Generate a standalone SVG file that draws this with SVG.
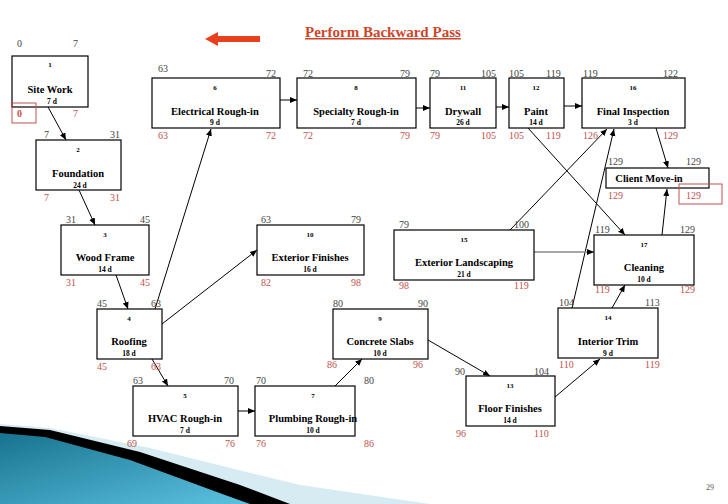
<svg xmlns="http://www.w3.org/2000/svg" width="728" height="504" viewBox="0 0 728 504" font-family="'Liberation Serif', 'DejaVu Serif', serif">
<defs>
<marker id="a" markerWidth="8" markerHeight="8" refX="7" refY="4" orient="auto" markerUnits="userSpaceOnUse"><path d="M0,1 L7,4 L0,7z" fill="#000"/></marker>
<linearGradient id="g1" x1="0" y1="0" x2="1" y2="1"><stop offset="0" stop-color="#17738f"/><stop offset="1" stop-color="#5cc2e0"/></linearGradient>
</defs>
<style>
text{font-family:'Liberation Serif','DejaVu Serif',serif}
.b{fill:#fff;stroke:#000;stroke-width:1.2}
.id{font-size:7px;font-weight:bold;text-anchor:middle}
.n{font-size:10.5px;font-weight:bold;text-anchor:middle}
.d{font-size:7.5px;font-weight:bold;text-anchor:middle}
.k{font-size:10px;fill:#444}
.r{font-size:10px;fill:#c0504d}
.c line{stroke:#000;stroke-width:1;marker-end:url(#a)}
</style>
<rect width="728" height="504" fill="#fff"/>
<polygon points="0,424 50,428 150,448 300,485 430,504 0,504" fill="#d6ebf2"/>
<polygon points="0,426 50,430 140,452 240,485 290,504 0,504" fill="#000"/>
<polygon points="0,433 45,437 130,460 225,495 250,504 0,504" fill="url(#g1)"/>
<text x="305" y="37" font-size="15" font-weight="bold" fill="#d0452a" text-decoration="underline">Perform Backward Pass</text>
<polygon points="205,39 218,32 218,36 260,36 260,42 218,42 218,46" fill="#e8401c"/>
<text x="706" y="490" font-size="8" fill="#555">29</text>
<g class="c">
<line x1="48" y1="107" x2="66" y2="140"/>
<line x1="79" y1="190" x2="95" y2="225"/>
<line x1="116" y1="275" x2="128" y2="309"/>
<line x1="155" y1="309" x2="211" y2="129"/>
<line x1="162" y1="324" x2="257" y2="250"/>
<line x1="152" y1="359" x2="168" y2="386"/>
<line x1="238" y1="411" x2="255" y2="411"/>
<line x1="335" y1="386" x2="362" y2="359"/>
<line x1="428" y1="340" x2="490" y2="376"/>
<line x1="555" y1="397" x2="600" y2="359"/>
<line x1="612" y1="308" x2="625" y2="285"/>
<line x1="572" y1="308" x2="614" y2="129"/>
<line x1="528" y1="128" x2="625" y2="235"/>
<line x1="510" y1="230" x2="607" y2="129"/>
<line x1="534" y1="252" x2="594" y2="252" style="stroke:#888;stroke-width:1.5"/>
<line x1="662" y1="235" x2="667" y2="189"/>
<line x1="656" y1="128" x2="668" y2="168"/>
<line x1="280" y1="100" x2="297" y2="100"/>
<line x1="416" y1="108" x2="430" y2="108"/>
<line x1="496" y1="107" x2="509" y2="107"/>
<line x1="564" y1="106" x2="582" y2="106"/>
</g>
<g id="n1"><rect class="b" x="12" y="56" width="76" height="51"/><text class="id" x="50" y="67">1</text><text class="n" x="50" y="93">Site Work</text><text class="d" x="52" y="104">7 d</text><text class="k" x="17" y="47">0</text><text class="k" x="73" y="47">7</text><rect x="12" y="103" width="24" height="20" fill="none" stroke="#c0504d"/><text class="r" x="17" y="117" font-weight="bold">0</text><text class="r" x="73" y="117">7</text></g>
<g id="n2"><rect class="b" x="36" y="140" width="85" height="50"/><text class="id" x="78" y="152">2</text><text class="n" x="78" y="177">Foundation</text><text class="d" x="80" y="188">24 d</text><text class="k" x="44" y="138">7</text><text class="k" x="110" y="138">31</text><text class="r" x="44" y="201">7</text><text class="r" x="110" y="201">31</text></g>
<g id="n3"><rect class="b" x="61" y="225" width="88" height="50"/><text class="id" x="105" y="237">3</text><text class="n" x="105" y="261">Wood Frame</text><text class="d" x="105" y="272">14 d</text><text class="k" x="66" y="223">31</text><text class="k" x="140" y="223">45</text><text class="r" x="66" y="286">31</text><text class="r" x="140" y="286">45</text></g>
<g id="n4"><rect class="b" x="97" y="309" width="65" height="50"/><text class="id" x="129" y="321">4</text><text class="n" x="129" y="345">Roofing</text><text class="d" x="129" y="356">18 d</text><text class="k" x="97" y="307">45</text><text class="k" x="151" y="307">63</text><text class="r" x="97" y="370">45</text><text class="r" x="151" y="370">63</text></g>
<g id="n5"><rect class="b" x="133" y="386" width="105" height="50"/><text class="id" x="185" y="398">5</text><text class="n" x="185" y="422">HVAC Rough-in</text><text class="d" x="185" y="433">7 d</text><text class="k" x="133" y="384">63</text><text class="k" x="224" y="384">70</text><text class="r" x="127" y="447">69</text><text class="r" x="225" y="447">76</text></g>
<g id="n7"><rect class="b" x="255" y="386" width="100" height="50"/><text class="id" x="313" y="398">7</text><text class="n" x="313" y="422">Plumbing Rough-in</text><text class="d" x="313" y="433">10 d</text><text class="k" x="256" y="384">70</text><text class="k" x="364" y="384">80</text><text class="r" x="256" y="447">76</text><text class="r" x="364" y="447">86</text></g>
<g id="n6"><rect class="b" x="152" y="78" width="128" height="50"/><text class="id" x="215" y="90">6</text><text class="n" x="215" y="115">Electrical Rough-in</text><text class="d" x="215" y="125">9 d</text><text class="k" x="158" y="72">63</text><text class="k" x="266" y="77">72</text><text class="r" x="158" y="139">63</text><text class="r" x="266" y="139">72</text></g>
<g id="n8"><rect class="b" x="297" y="78" width="119" height="50"/><text class="id" x="356" y="90">8</text><text class="n" x="356" y="115">Specialty Rough-in</text><text class="d" x="356" y="125">7 d</text><text class="k" x="303" y="77">72</text><text class="k" x="400" y="77">79</text><text class="r" x="303" y="139">72</text><text class="r" x="400" y="139">79</text></g>
<g id="n11"><rect class="b" x="430" y="78" width="66" height="50"/><text class="id" x="463" y="90">11</text><text class="n" x="463" y="115">Drywall</text><text class="d" x="463" y="125">26 d</text><text class="k" x="430" y="77">79</text><text class="k" x="481" y="77">105</text><text class="r" x="430" y="139">79</text><text class="r" x="481" y="139">105</text></g>
<g id="n12"><rect class="b" x="509" y="78" width="55" height="50"/><text class="id" x="536" y="90">12</text><text class="n" x="536" y="115">Paint</text><text class="d" x="536" y="125">14 d</text><text class="k" x="509" y="77">105</text><text class="k" x="546" y="77">119</text><text class="r" x="509" y="139">105</text><text class="r" x="546" y="139">119</text></g>
<g id="n16"><rect class="b" x="582" y="78" width="103" height="50"/><text class="id" x="633" y="90">16</text><text class="n" x="633" y="115">Final Inspection</text><text class="d" x="633" y="125">3 d</text><text class="k" x="583" y="77">119</text><text class="k" x="663" y="77">122</text><text class="r" x="583" y="139">126</text><text class="r" x="663" y="139">129</text></g>
<g id="n18"><rect class="b" x="606" y="168" width="103" height="20"/><text class="n" x="649" y="182">Client Move-in</text><text class="k" x="608" y="165">129</text><text class="k" x="686" y="165">129</text><text class="r" x="608" y="199">129</text><rect x="679" y="184" width="43" height="20" fill="none" stroke="#c0504d"/><text class="r" x="686" y="199">129</text></g>
<g id="n10"><rect class="b" x="257" y="225" width="107" height="50"/><text class="id" x="310" y="237">10</text><text class="n" x="310" y="261">Exterior Finishes</text><text class="d" x="310" y="272">16 d</text><text class="k" x="261" y="223">63</text><text class="k" x="351" y="223">79</text><text class="r" x="261" y="286">82</text><text class="r" x="351" y="286">98</text></g>
<g id="n15"><rect class="b" x="394" y="230" width="140" height="50"/><text class="id" x="464" y="242">15</text><text class="n" x="464" y="266">Exterior Landscaping</text><text class="d" x="464" y="277">21 d</text><text class="k" x="399" y="228">79</text><text class="k" x="514" y="228">100</text><text class="r" x="399" y="289">98</text><text class="r" x="514" y="289">119</text></g>
<g id="n17"><rect class="b" x="594" y="235" width="100" height="50"/><text class="id" x="644" y="247">17</text><text class="n" x="644" y="271">Cleaning</text><text class="d" x="644" y="282">10 d</text><text class="k" x="595" y="233">119</text><text class="k" x="680" y="233">129</text><text class="r" x="595" y="293">119</text><text class="r" x="680" y="293">129</text></g>
<g id="n9"><rect class="b" x="333" y="309" width="95" height="50"/><text class="id" x="380" y="321">9</text><text class="n" x="380" y="345">Concrete Slabs</text><text class="d" x="380" y="356">10 d</text><text class="k" x="333" y="307">80</text><text class="k" x="418" y="307">90</text><text class="r" x="327" y="368">86</text><text class="r" x="413" y="368">96</text></g>
<g id="n14"><rect class="b" x="558" y="308" width="100" height="50"/><text class="id" x="608" y="320">14</text><text class="n" x="608" y="345">Interior Trim</text><text class="d" x="608" y="356">9 d</text><text class="k" x="559" y="306">104</text><text class="k" x="645" y="306">113</text><text class="r" x="559" y="368">110</text><text class="r" x="645" y="368">119</text></g>
<g id="n13"><rect class="b" x="466" y="376" width="89" height="50"/><text class="id" x="510" y="388">13</text><text class="n" x="510" y="412">Floor Finishes</text><text class="d" x="510" y="423">14 d</text><text class="k" x="455" y="375">90</text><text class="k" x="534" y="375">104</text><text class="r" x="456" y="437">96</text><text class="r" x="534" y="437">110</text></g>
</svg>
